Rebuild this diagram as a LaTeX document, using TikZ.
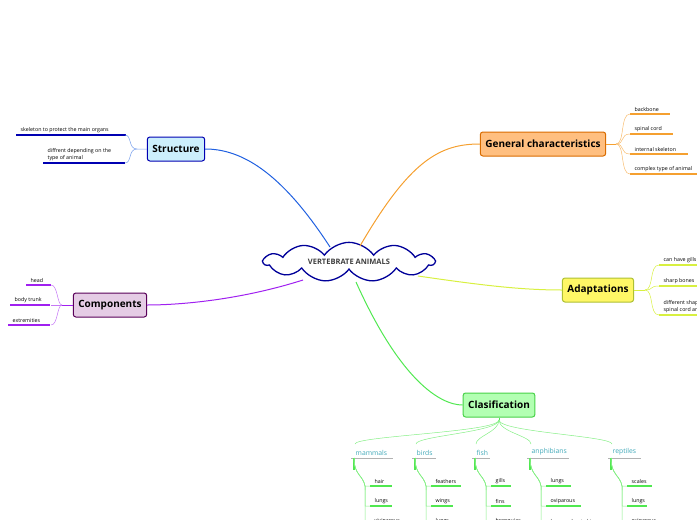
\documentclass[tikz,border=0pt]{standalone}
\usepackage{fontspec}
\setmainfont{Open Sans}
\usetikzlibrary{shapes.symbols}
\definecolor{cblue}{HTML}{2060E0}\definecolor{corange}{HTML}{F5A030}
\definecolor{cyel}{HTML}{D8F040}\definecolor{cpurp}{HTML}{A020F0}
\definecolor{cgreen}{HTML}{50E850}\definecolor{cteal}{HTML}{40A8B8}
\tikzset{x=1pt,y=-1pt,
 main/.style={draw,rounded corners=2.5pt,line width=1pt,font=\bfseries\fontsize{10}{11}\selectfont,minimum height=24pt,inner xsep=5pt},
 lt/.style={font=\fontsize{5.3}{7}\selectfont,inner sep=0.5pt,anchor=south west,align=left},
 ht/.style={font=\fontsize{6.8}{8}\selectfont,text=cteal,inner sep=0.5pt,anchor=south west},
 br/.style={line width=0.5pt},
 ul/.style={line width=1.2pt}}
\newcommand{\lf}[6]{% name, x, y(underline), text, length, color
 \node[lt] (#1) at (#2,#3-1.5) {#4};
 \coordinate (#1u) at (#2-4,#3);
 \draw[ul,#6] (#1u) -- ++(#5,0);}
\begin{document}
\begin{tikzpicture}
\useasboundingbox (0,0) rectangle (697,520);
\clip (0,0) rectangle (697,520);
\node[cloud,cloud puffs=11,cloud puff arc=110,aspect=5,draw=blue!60!black,line width=1.3pt,fill=white,minimum width=170pt,minimum height=36pt,font=\bfseries\fontsize{7.5}{9}\selectfont,text=black!75,inner sep=0pt] (c) at (349,262) {VERTEBRATE ANIMALS};
\node[main,fill=cyan!20,draw=blue!70!black] (s) at (176,149) {Structure};
\node[main,fill=orange!50,draw=orange!85!black] (g) at (543,144) {General characteristics};
\node[main,fill=yellow!60,draw=cyel!80!black] (a) at (598,290) {Adaptations};
\node[main,fill=violet!20,draw=violet!70!black] (k) at (110,305) {Components};
\node[main,fill=green!30,draw=cgreen!90!black] (l) at (499,405) {Clasification};
\draw[cblue,line width=1pt] (330,247) .. controls (280,170) and (240,149) .. (s.east);
\draw[corange,line width=1pt] (360,246) .. controls (410,160) and (440,144) .. (g.west);
\draw[cyel,line width=1pt] (418,276) .. controls (480,285) and (520,290) .. (a.west);
\draw[cpurp,line width=1pt] (303,280) .. controls (240,300) and (180,305) .. (k.east);
\draw[cgreen,line width=1pt] (356,282) .. controls (400,380) and (440,405) .. (l.west);
% structure
\lf{s1}{20}{135}{skeleton to protect the main organs}{110}{blue!70!black}
\lf{s2}{47}{163}{diffrent depending on the\\type of animal}{82}{blue!70!black}
\coordinate (sp) at (137,149);
\draw[br,cblue!60] (s.west)--(sp) .. controls (128,149) and (132,135) .. (125,135);
\draw[br,cblue!60] (sp) .. controls (128,149) and (132,163) .. (125,163);
% general
\coordinate (gp) at (616,144);
\lf{g1}{634}{114}{backbone}{40}{corange}
\lf{g2}{634}{134}{spinal cord}{43}{corange}
\lf{g3}{634}{154}{internal skeleton}{58}{corange}
\lf{g4}{634}{174}{complex type of animal}{80}{corange}
\draw[br,corange] (g.east)--(gp);
\foreach \n in {g1u,g2u,g3u,g4u}{\draw[br,corange!70] (gp) .. controls (625,144) and (620,0|-\n) .. (\n);}
% adaptations
\coordinate (ap) at (645,290);
\lf{a1}{663}{265}{can have gills}{60}{cyel}
\lf{a2}{663}{286}{sharp bones}{60}{cyel}
\lf{a3}{663}{315}{different shapes of the\\spinal cord and skeleton}{60}{cyel}
\draw[br,cyel] (a.east)--(ap);
\foreach \n in {a1u,a2u,a3u}{\draw[br,cyel] (ap) .. controls (654,290) and (649,0|-\n) .. (\n);}
% components
\coordinate (kp) at (62,305);
\lf{k1}{30}{285}{head}{25}{cpurp}
\lf{k2}{14}{305}{body trunk}{40}{cpurp}
\lf{k3}{12}{325}{extremities}{42}{cpurp}
\draw[br,cpurp] (k.west)--(kp);
\draw[br,cpurp!60] (kp) .. controls (57,305) and (58,285) .. (51,285);
\draw[br,cpurp!60] (kp) -- (51,305);
\draw[br,cpurp!60] (kp) .. controls (57,305) and (58,325) .. (51,325);
% classification
\coordinate (lp) at (499,420);
\draw[br,cgreen] (l.south)--(lp);
\foreach \nm/\x/\t/\w/\ia/\ib/\ic/\wa/\wb/\wc in {
 m/355/mammals/42/hair/lungs/viviparous/22/22/30,
 b/416/birds/24/feathers/wings/lungs/30/22/22,
 f/476/fish/18/gills/fins/bronquias/20/20/30,
 p/531/anphibians/42/lungs/oviparous/bare and wet skin/25/35/60,
 r/612/reptiles/33/scales/lungs/oviparous/25/20/30}{
 \node[ht] (\nm) at (\x,456) {\t};
 \coordinate (\nm u) at (\x-4,458);
 \draw[black!30,line width=0.6pt] (\nm u) -- ++(\w,0);
 \draw[br,cgreen!70] (lp) .. controls (499,432) and (\x,436) .. (\x,444);
 \coordinate (\nm v) at (\x-1,458);
 \draw[cgreen,line width=1.2pt] (\nm v) -- ++(0,12);
 \lf{\nm1}{\x+19}{486}{\ia}{\wa}{cgreen}
 \lf{\nm2}{\x+19}{506}{\ib}{\wb}{cgreen}
 \lf{\nm3}{\x+19}{526}{\ic}{\wc}{cgreen}
 \foreach \q in {1,2,3}{\draw[br,cgreen!70] (\nm v) .. controls (\x-1,475) and (\x+8,475) .. (\x+10,486) -- (\x+10,490) |- (\nm\q u);}
}
\end{tikzpicture}
\end{document}
